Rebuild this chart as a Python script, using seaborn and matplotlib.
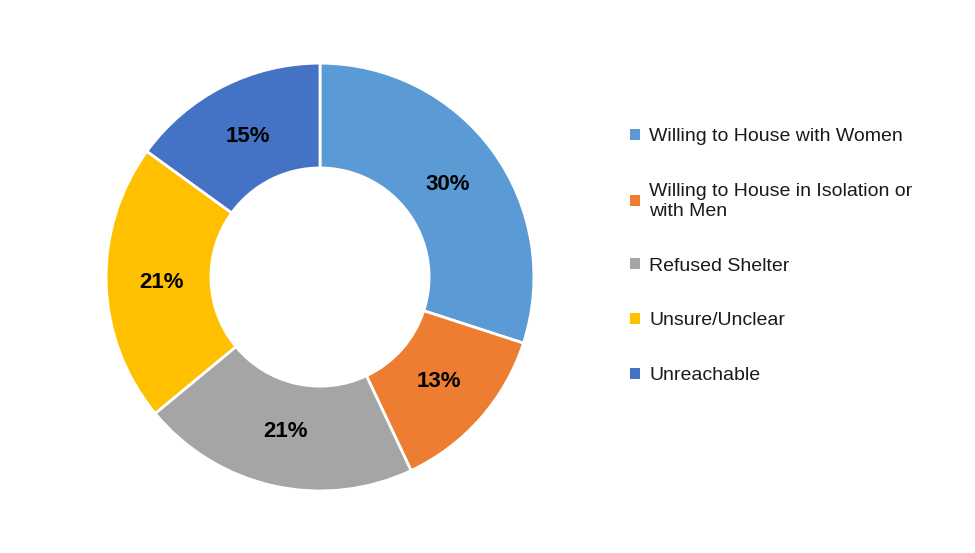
import matplotlib.pyplot as plt
import seaborn as sns

sns.set_theme(style="white")
plt.rcParams['font.family'] = ['Liberation Sans', 'DejaVu Sans']

categories = ['Willing to House with Women',
              'Willing to House in Isolation or\nwith Men',
              'Refused Shelter', 'Unsure/Unclear', 'Unreachable']
shares = [30, 13, 21, 21, 15]
colors = ['#5B9BD5', '#ED7D31', '#A5A5A5', '#FFC000', '#4472C4']

fig = plt.figure(figsize=(9.75, 5.53), dpi=100)
ax = fig.add_axes([0.1077, 0.110, 0.441, 0.778])

wedges, texts, autotexts = ax.pie(
    shares, colors=colors, startangle=90, counterclock=False,
    autopct='%d%%', pctdistance=0.74,
    wedgeprops=dict(width=0.49, edgecolor='white', linewidth=2),
    textprops=dict(fontsize=16, fontweight='bold', color='black'))
ax.set_xlim(-1.005, 1.005)
ax.set_ylim(-1.005, 1.005)
ax.set_aspect('equal')

leg = fig.legend(wedges, categories, loc='upper left', bbox_to_anchor=(0.628, 0.8),
                 frameon=False, fontsize=14, handlelength=0.5, handleheight=0.5,
                 handletextpad=0.5, labelspacing=1.95)
for h in leg.legend_handles:
    h.set_edgecolor('none')
for t in leg.get_texts():
    t.set_color('#1a1a1a')

fig.savefig('out.png', dpi=100)
